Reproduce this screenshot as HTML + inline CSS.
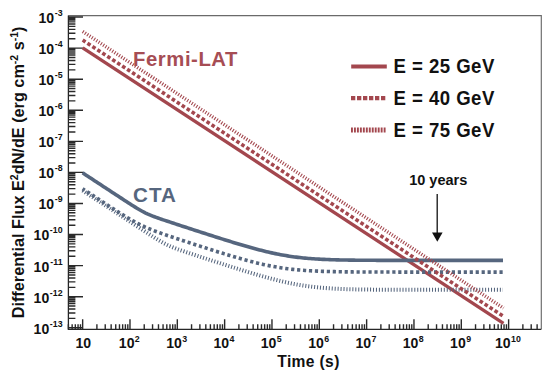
<!DOCTYPE html>
<html><head><meta charset="utf-8"><style>html,body{margin:0;padding:0;background:#fff;width:550px;height:377px;overflow:hidden}svg{display:block}</style></head>
<body><svg width="550" height="377" viewBox="0 0 550 377"><rect width="550" height="377" fill="#fff"/><path d="M68.4 15.6H541.3V329.3" fill="none" stroke="#6a6a6a" stroke-width="1.15"/><path d="M68.4 15.6V329.3H541.3" fill="none" stroke="#262626" stroke-width="1.3"/><path d="M68.4 17.05H83.0M68.4 48.12H83.0M68.4 79.19H83.0M68.4 110.26H83.0M68.4 141.33H83.0M68.4 172.40H83.0M68.4 203.47H83.0M68.4 234.54H83.0M68.4 265.61H83.0M68.4 296.68H83.0M68.4 327.75H83.0M68.4 38.77H75.4M68.4 33.30H75.4M68.4 29.41H75.4M68.4 26.40H75.4M68.4 23.94H75.4M68.4 21.86H75.4M68.4 20.06H75.4M68.4 18.47H75.4M68.4 69.84H75.4M68.4 64.37H75.4M68.4 60.48H75.4M68.4 57.47H75.4M68.4 55.01H75.4M68.4 52.93H75.4M68.4 51.13H75.4M68.4 49.54H75.4M68.4 100.91H75.4M68.4 95.44H75.4M68.4 91.55H75.4M68.4 88.54H75.4M68.4 86.08H75.4M68.4 84.00H75.4M68.4 82.20H75.4M68.4 80.61H75.4M68.4 131.98H75.4M68.4 126.51H75.4M68.4 122.62H75.4M68.4 119.61H75.4M68.4 117.15H75.4M68.4 115.07H75.4M68.4 113.27H75.4M68.4 111.68H75.4M68.4 163.05H75.4M68.4 157.58H75.4M68.4 153.69H75.4M68.4 150.68H75.4M68.4 148.22H75.4M68.4 146.14H75.4M68.4 144.34H75.4M68.4 142.75H75.4M68.4 194.12H75.4M68.4 188.65H75.4M68.4 184.76H75.4M68.4 181.75H75.4M68.4 179.29H75.4M68.4 177.21H75.4M68.4 175.41H75.4M68.4 173.82H75.4M68.4 225.19H75.4M68.4 219.72H75.4M68.4 215.83H75.4M68.4 212.82H75.4M68.4 210.36H75.4M68.4 208.28H75.4M68.4 206.48H75.4M68.4 204.89H75.4M68.4 256.26H75.4M68.4 250.79H75.4M68.4 246.90H75.4M68.4 243.89H75.4M68.4 241.43H75.4M68.4 239.35H75.4M68.4 237.55H75.4M68.4 235.96H75.4M68.4 287.33H75.4M68.4 281.86H75.4M68.4 277.97H75.4M68.4 274.96H75.4M68.4 272.50H75.4M68.4 270.42H75.4M68.4 268.62H75.4M68.4 267.03H75.4M68.4 318.40H75.4M68.4 312.93H75.4M68.4 309.04H75.4M68.4 306.03H75.4M68.4 303.57H75.4M68.4 301.49H75.4M68.4 299.69H75.4M68.4 298.10H75.4M82.65 329.3V319.3M129.98 329.3V319.3M177.31 329.3V319.3M224.64 329.3V319.3M271.97 329.3V319.3M319.30 329.3V319.3M366.63 329.3V319.3M413.96 329.3V319.3M461.29 329.3V319.3M508.62 329.3V319.3M68.40 329.3V324.3M72.15 329.3V324.3M75.32 329.3V324.3M78.06 329.3V324.3M80.48 329.3V324.3M96.90 329.3V324.3M105.23 329.3V324.3M111.15 329.3V324.3M115.73 329.3V324.3M119.48 329.3V324.3M122.65 329.3V324.3M125.39 329.3V324.3M127.81 329.3V324.3M144.23 329.3V324.3M152.56 329.3V324.3M158.48 329.3V324.3M163.06 329.3V324.3M166.81 329.3V324.3M169.98 329.3V324.3M172.72 329.3V324.3M175.14 329.3V324.3M191.56 329.3V324.3M199.89 329.3V324.3M205.81 329.3V324.3M210.39 329.3V324.3M214.14 329.3V324.3M217.31 329.3V324.3M220.05 329.3V324.3M222.47 329.3V324.3M238.89 329.3V324.3M247.22 329.3V324.3M253.14 329.3V324.3M257.72 329.3V324.3M261.47 329.3V324.3M264.64 329.3V324.3M267.38 329.3V324.3M269.80 329.3V324.3M286.22 329.3V324.3M294.55 329.3V324.3M300.47 329.3V324.3M305.05 329.3V324.3M308.80 329.3V324.3M311.97 329.3V324.3M314.71 329.3V324.3M317.13 329.3V324.3M333.55 329.3V324.3M341.88 329.3V324.3M347.80 329.3V324.3M352.38 329.3V324.3M356.13 329.3V324.3M359.30 329.3V324.3M362.04 329.3V324.3M364.46 329.3V324.3M380.88 329.3V324.3M389.21 329.3V324.3M395.13 329.3V324.3M399.71 329.3V324.3M403.46 329.3V324.3M406.63 329.3V324.3M409.37 329.3V324.3M411.79 329.3V324.3M428.21 329.3V324.3M436.54 329.3V324.3M442.46 329.3V324.3M447.04 329.3V324.3M450.79 329.3V324.3M453.96 329.3V324.3M456.70 329.3V324.3M459.12 329.3V324.3M475.54 329.3V324.3M483.87 329.3V324.3M489.79 329.3V324.3M494.37 329.3V324.3M498.12 329.3V324.3M501.29 329.3V324.3M504.03 329.3V324.3M506.45 329.3V324.3M522.87 329.3V324.3M531.20 329.3V324.3M537.12 329.3V324.3" stroke="#2a2a2a" stroke-width="1.4" fill="none"/><path d="M82.7 47.90L503.5 323.30" stroke="#a3474e" fill="none" stroke-width="3.3"/><path d="M82.60 190.54L84.35 191.69L86.10 192.84L87.85 193.99L89.61 195.14L91.36 196.29L93.11 197.44L94.86 198.59L96.61 199.74L98.36 200.89L100.12 202.04L101.87 203.19L103.62 204.34L105.37 205.49L107.12 206.64L108.88 207.79L110.63 208.94L112.38 210.09L114.13 211.24L115.88 212.39L117.63 213.54L119.38 214.69L121.14 215.84L122.89 216.99L124.64 218.14L126.39 219.29L128.14 220.44L129.89 221.59L131.65 222.74L133.40 223.89L135.15 225.04L136.90 226.18L138.65 227.33L140.40 228.48L142.16 229.63L143.91 230.77L145.66 231.91L147.41 233.05L149.16 234.19L150.91 235.31L152.67 236.44L154.42 237.55L156.17 238.64L157.92 239.72L159.67 240.77L161.43 241.78L163.18 242.77L164.93 243.70L166.68 244.60L168.43 245.44L170.18 246.23L171.94 246.98L173.69 247.69L175.44 248.37L177.19 249.03L178.94 249.66L180.69 250.27L182.44 250.88L184.20 251.47L185.95 252.06L187.70 252.65L189.45 253.23L191.20 253.81L192.95 254.38L194.71 254.96L196.46 255.53L198.21 256.10L199.96 256.67L201.71 257.25L203.46 257.82L205.22 258.39L206.97 258.96L208.72 259.53L210.47 260.09L212.22 260.66L213.97 261.23L215.73 261.79L217.48 262.36L219.23 262.93L220.98 263.49L222.73 264.05L224.49 264.61L226.24 265.17L227.99 265.73L229.74 266.29L231.49 266.85L233.24 267.40L234.99 267.96L236.75 268.51L238.50 269.06L240.25 269.61L242.00 270.15L243.75 270.69L245.50 271.23L247.26 271.77L249.01 272.30L250.76 272.83L252.51 273.36L254.26 273.88L256.01 274.40L257.77 274.92L259.52 275.43L261.27 275.93L263.02 276.43L264.77 276.92L266.52 277.41L268.28 277.89L270.03 278.36L271.78 278.83L273.53 279.29L275.28 279.74L277.03 280.18L278.79 280.61L280.54 281.04L282.29 281.45L284.04 281.85L285.79 282.25L287.54 282.63L289.30 283.00L291.05 283.36L292.80 283.71L294.55 284.05L296.30 284.37L298.05 284.69L299.81 284.99L301.56 285.28L303.31 285.55L305.06 285.82L306.81 286.07L308.56 286.31L310.32 286.54L312.07 286.75L313.82 286.96L315.57 287.15L317.32 287.33L319.07 287.51L320.83 287.67L322.58 287.82L324.33 287.97L326.08 288.10L327.83 288.23L329.58 288.34L331.34 288.45L333.09 288.56L334.84 288.65L336.59 288.74L338.34 288.82L340.10 288.90L341.85 288.97L343.60 289.04L345.35 289.10L347.10 289.16L348.85 289.21L350.61 289.26L352.36 289.30L354.11 289.35L355.86 289.38L357.61 289.42L359.36 289.45L361.12 289.48L362.87 289.51L364.62 289.54L366.37 289.56L368.12 289.58L369.87 289.60L371.62 289.62L373.38 289.64L375.13 289.65L376.88 289.67L378.63 289.68L380.38 289.69L382.13 289.70L383.89 289.71L385.64 289.72L387.39 289.73L389.14 289.74L390.89 289.75L392.64 289.76L394.40 289.76L396.15 289.77L397.90 289.77L399.65 289.78L401.40 289.78L403.15 289.79L404.91 289.79L406.66 289.79L408.41 289.80L410.16 289.80L411.91 289.80L413.66 289.80L415.42 289.81L417.17 289.81L418.92 289.81L420.67 289.81L422.42 289.81L424.17 289.82L425.93 289.82L427.68 289.82L429.43 289.82L431.18 289.82L432.93 289.82L434.68 289.82L436.44 289.82L438.19 289.82L439.94 289.82L441.69 289.83L443.44 289.83L445.19 289.83L446.95 289.83L448.70 289.83L450.45 289.83L452.20 289.83L453.95 289.83L455.70 289.83L457.46 289.83L459.21 289.83L460.96 289.83L462.71 289.83L464.46 289.83L466.21 289.83L467.97 289.83L469.72 289.83L471.47 289.83L473.22 289.83L474.97 289.83L476.73 289.83L478.48 289.83L480.23 289.83L481.98 289.83L483.73 289.83L485.48 289.83L487.24 289.83L488.99 289.83L490.74 289.83L492.49 289.83L494.24 289.83L495.99 289.83L497.74 289.83L499.50 289.83L501.25 289.83L503.00 289.83" stroke="#56667e" fill="none" stroke-width="4.0" stroke-dasharray="1.05 1.9"/><path d="M82.60 188.73L84.35 189.88L86.10 191.03L87.85 192.18L89.61 193.33L91.36 194.47L93.11 195.62L94.86 196.77L96.61 197.92L98.36 199.06L100.12 200.21L101.87 201.36L103.62 202.50L105.37 203.64L107.12 204.78L108.88 205.92L110.63 207.06L112.38 208.19L114.13 209.32L115.88 210.45L117.63 211.57L119.38 212.68L121.14 213.79L122.89 214.88L124.64 215.97L126.39 217.04L128.14 218.09L129.89 219.13L131.65 220.14L133.40 221.13L135.15 222.10L136.90 223.04L138.65 223.95L140.40 224.83L142.16 225.68L143.91 226.50L145.66 227.29L147.41 228.05L149.16 228.78L150.91 229.49L152.67 230.19L154.42 230.86L156.17 231.51L157.92 232.15L159.67 232.78L161.43 233.40L163.18 234.01L164.93 234.62L166.68 235.22L168.43 235.81L170.18 236.40L171.94 236.98L173.69 237.57L175.44 238.15L177.19 238.72L178.94 239.30L180.69 239.88L182.44 240.45L184.20 241.02L185.95 241.59L187.70 242.16L189.45 242.73L191.20 243.30L192.95 243.87L194.71 244.44L196.46 245.00L198.21 245.57L199.96 246.13L201.71 246.69L203.46 247.25L205.22 247.81L206.97 248.37L208.72 248.93L210.47 249.49L212.22 250.04L213.97 250.59L215.73 251.14L217.48 251.69L219.23 252.24L220.98 252.78L222.73 253.32L224.49 253.86L226.24 254.39L227.99 254.93L229.74 255.45L231.49 255.98L233.24 256.50L234.99 257.01L236.75 257.53L238.50 258.03L240.25 258.53L242.00 259.03L243.75 259.52L245.50 260.00L247.26 260.47L249.01 260.94L250.76 261.40L252.51 261.86L254.26 262.30L256.01 262.74L257.77 263.16L259.52 263.58L261.27 263.99L263.02 264.39L264.77 264.77L266.52 265.15L268.28 265.51L270.03 265.86L271.78 266.20L273.53 266.53L275.28 266.85L277.03 267.15L278.79 267.45L280.54 267.73L282.29 268.00L284.04 268.25L285.79 268.50L287.54 268.73L289.30 268.95L291.05 269.16L292.80 269.35L294.55 269.54L296.30 269.72L298.05 269.88L299.81 270.04L301.56 270.19L303.31 270.32L305.06 270.45L306.81 270.57L308.56 270.68L310.32 270.79L312.07 270.89L313.82 270.98L315.57 271.06L317.32 271.14L319.07 271.21L320.83 271.28L322.58 271.35L324.33 271.40L326.08 271.46L327.83 271.51L329.58 271.55L331.34 271.60L333.09 271.64L334.84 271.67L336.59 271.71L338.34 271.74L340.10 271.77L341.85 271.79L343.60 271.82L345.35 271.84L347.10 271.86L348.85 271.88L350.61 271.90L352.36 271.91L354.11 271.93L355.86 271.94L357.61 271.95L359.36 271.97L361.12 271.98L362.87 271.99L364.62 272.00L366.37 272.00L368.12 272.01L369.87 272.02L371.62 272.02L373.38 272.03L375.13 272.04L376.88 272.04L378.63 272.05L380.38 272.05L382.13 272.05L383.89 272.06L385.64 272.06L387.39 272.06L389.14 272.07L390.89 272.07L392.64 272.07L394.40 272.07L396.15 272.08L397.90 272.08L399.65 272.08L401.40 272.08L403.15 272.08L404.91 272.08L406.66 272.08L408.41 272.09L410.16 272.09L411.91 272.09L413.66 272.09L415.42 272.09L417.17 272.09L418.92 272.09L420.67 272.09L422.42 272.09L424.17 272.09L425.93 272.09L427.68 272.09L429.43 272.09L431.18 272.09L432.93 272.09L434.68 272.09L436.44 272.09L438.19 272.09L439.94 272.09L441.69 272.09L443.44 272.10L445.19 272.10L446.95 272.10L448.70 272.10L450.45 272.10L452.20 272.10L453.95 272.10L455.70 272.10L457.46 272.10L459.21 272.10L460.96 272.10L462.71 272.10L464.46 272.10L466.21 272.10L467.97 272.10L469.72 272.10L471.47 272.10L473.22 272.10L474.97 272.10L476.73 272.10L478.48 272.10L480.23 272.10L481.98 272.10L483.73 272.10L485.48 272.10L487.24 272.10L488.99 272.10L490.74 272.10L492.49 272.10L494.24 272.10L495.99 272.10L497.74 272.10L499.50 272.10L501.25 272.10L503.00 272.10" stroke="#56667e" fill="none" stroke-width="3.6" stroke-dasharray="3.2 2.755" stroke-dashoffset="0.6"/><path d="M82.60 172.85L84.35 174.00L86.10 175.15L87.85 176.30L89.61 177.45L91.36 178.60L93.11 179.75L94.86 180.90L96.61 182.05L98.36 183.20L100.12 184.35L101.87 185.50L103.62 186.65L105.37 187.80L107.12 188.95L108.88 190.10L110.63 191.25L112.38 192.39L114.13 193.54L115.88 194.69L117.63 195.84L119.38 196.99L121.14 198.13L122.89 199.28L124.64 200.42L126.39 201.55L128.14 202.69L129.89 203.81L131.65 204.93L133.40 206.04L135.15 207.13L136.90 208.20L138.65 209.24L140.40 210.25L142.16 211.22L143.91 212.14L145.66 213.02L147.41 213.85L149.16 214.63L150.91 215.37L152.67 216.07L154.42 216.74L156.17 217.39L157.92 218.02L159.67 218.63L161.43 219.23L163.18 219.83L164.93 220.41L166.68 221.00L168.43 221.58L170.18 222.16L171.94 222.73L173.69 223.31L175.44 223.88L177.19 224.46L178.94 225.03L180.69 225.60L182.44 226.17L184.20 226.75L185.95 227.32L187.70 227.89L189.45 228.46L191.20 229.03L192.95 229.60L194.71 230.17L196.46 230.73L198.21 231.30L199.96 231.87L201.71 232.43L203.46 233.00L205.22 233.56L206.97 234.13L208.72 234.69L210.47 235.25L212.22 235.81L213.97 236.37L215.73 236.93L217.48 237.49L219.23 238.04L220.98 238.60L222.73 239.15L224.49 239.70L226.24 240.24L227.99 240.79L229.74 241.33L231.49 241.87L233.24 242.41L234.99 242.94L236.75 243.47L238.50 244.00L240.25 244.52L242.00 245.04L243.75 245.55L245.50 246.06L247.26 246.56L249.01 247.06L250.76 247.55L252.51 248.04L254.26 248.52L256.01 248.99L257.77 249.46L259.52 249.92L261.27 250.36L263.02 250.81L264.77 251.24L266.52 251.66L268.28 252.07L270.03 252.48L271.78 252.87L273.53 253.25L275.28 253.62L277.03 253.98L278.79 254.33L280.54 254.66L282.29 254.99L284.04 255.30L285.79 255.60L287.54 255.88L289.30 256.16L291.05 256.42L292.80 256.67L294.55 256.91L296.30 257.14L298.05 257.35L299.81 257.56L301.56 257.75L303.31 257.93L305.06 258.10L306.81 258.26L308.56 258.42L310.32 258.56L312.07 258.69L313.82 258.82L315.57 258.93L317.32 259.04L319.07 259.14L320.83 259.24L322.58 259.33L324.33 259.41L326.08 259.49L327.83 259.56L329.58 259.62L331.34 259.68L333.09 259.74L334.84 259.79L336.59 259.84L338.34 259.89L340.10 259.93L341.85 259.96L343.60 260.00L345.35 260.03L347.10 260.06L348.85 260.09L350.61 260.12L352.36 260.14L354.11 260.16L355.86 260.18L357.61 260.20L359.36 260.22L361.12 260.23L362.87 260.25L364.62 260.26L366.37 260.27L368.12 260.28L369.87 260.29L371.62 260.30L373.38 260.31L375.13 260.32L376.88 260.33L378.63 260.33L380.38 260.34L382.13 260.34L383.89 260.35L385.64 260.35L387.39 260.36L389.14 260.36L390.89 260.37L392.64 260.37L394.40 260.37L396.15 260.38L397.90 260.38L399.65 260.38L401.40 260.38L403.15 260.39L404.91 260.39L406.66 260.39L408.41 260.39L410.16 260.39L411.91 260.39L413.66 260.39L415.42 260.40L417.17 260.40L418.92 260.40L420.67 260.40L422.42 260.40L424.17 260.40L425.93 260.40L427.68 260.40L429.43 260.40L431.18 260.40L432.93 260.40L434.68 260.40L436.44 260.40L438.19 260.40L439.94 260.40L441.69 260.41L443.44 260.41L445.19 260.41L446.95 260.41L448.70 260.41L450.45 260.41L452.20 260.41L453.95 260.41L455.70 260.41L457.46 260.41L459.21 260.41L460.96 260.41L462.71 260.41L464.46 260.41L466.21 260.41L467.97 260.41L469.72 260.41L471.47 260.41L473.22 260.41L474.97 260.41L476.73 260.41L478.48 260.41L480.23 260.41L481.98 260.41L483.73 260.41L485.48 260.41L487.24 260.41L488.99 260.41L490.74 260.41L492.49 260.41L494.24 260.41L495.99 260.41L497.74 260.41L499.50 260.41L501.25 260.41L503.00 260.41" stroke="#56667e" fill="none" stroke-width="3.6"/><path d="M82.7 40.10L503.5 316.40" stroke="#a3474e" fill="none" stroke-width="3.6" stroke-dasharray="3.6 2.34" stroke-dashoffset="0.25"/><path d="M82.7 31.50L503.5 308.10" stroke="#a3474e" fill="none" stroke-width="3.5" stroke-dasharray="1.1 1.62"/><path d="M351.2 66.4H386.8" stroke="#a3474e" stroke-width="4"/><path d="M351 98.2H385.3" stroke="#a3474e" stroke-width="4.2" stroke-dasharray="4.3 1.7"/><path d="M351 129.9H385.9" stroke="#a3474e" stroke-width="5" stroke-dasharray="1.9 1.07"/><path d="M437.2 194V233" stroke="#111" stroke-width="1.3"/><path d="M432 232.6H442.6L437.3 241.8Z" fill="#111"/><g font-family="Liberation Sans, sans-serif" font-weight="bold"><text transform="translate(393.6 73.3) scale(1 1.06)" font-size="18.6" letter-spacing="0.45" fill="#111">E = 25 GeV</text><text transform="translate(393.6 104.7) scale(1 1.06)" font-size="18.6" letter-spacing="0.45" fill="#111">E = 40 GeV</text><text transform="translate(393.6 136.8) scale(1 1.06)" font-size="18.6" letter-spacing="0.45" fill="#111">E = 75 GeV</text><text x="133.1" y="65.8" font-size="20.3" letter-spacing="0.55" fill="#a64d54">Fermi-LAT</text><text x="133.0" y="201.5" font-size="20.6" letter-spacing="1.1" fill="#56667e">CTA</text><text x="409.2" y="184.7" font-size="14.5" fill="#111">10 years</text><text transform="translate(62.60 15.95) scale(0.9 1.0)" font-size="9.8" fill="#111" text-anchor="end">-3</text><text transform="translate(54.16 22.95) scale(0.97 1.07)" font-size="14.5" fill="#111" text-anchor="end">10</text><text transform="translate(62.60 47.02) scale(0.9 1.0)" font-size="9.8" fill="#111" text-anchor="end">-4</text><text transform="translate(54.16 54.02) scale(0.97 1.07)" font-size="14.5" fill="#111" text-anchor="end">10</text><text transform="translate(62.60 78.09) scale(0.9 1.0)" font-size="9.8" fill="#111" text-anchor="end">-5</text><text transform="translate(54.16 85.09) scale(0.97 1.07)" font-size="14.5" fill="#111" text-anchor="end">10</text><text transform="translate(62.60 109.16) scale(0.9 1.0)" font-size="9.8" fill="#111" text-anchor="end">-6</text><text transform="translate(54.16 116.16) scale(0.97 1.07)" font-size="14.5" fill="#111" text-anchor="end">10</text><text transform="translate(62.60 140.23) scale(0.9 1.0)" font-size="9.8" fill="#111" text-anchor="end">-7</text><text transform="translate(54.16 147.23) scale(0.97 1.07)" font-size="14.5" fill="#111" text-anchor="end">10</text><text transform="translate(62.60 171.30) scale(0.9 1.0)" font-size="9.8" fill="#111" text-anchor="end">-8</text><text transform="translate(54.16 178.30) scale(0.97 1.07)" font-size="14.5" fill="#111" text-anchor="end">10</text><text transform="translate(62.60 202.37) scale(0.9 1.0)" font-size="9.8" fill="#111" text-anchor="end">-9</text><text transform="translate(54.16 209.37) scale(0.97 1.07)" font-size="14.5" fill="#111" text-anchor="end">10</text><text transform="translate(62.60 233.44) scale(0.9 1.0)" font-size="9.8" fill="#111" text-anchor="end">-10</text><text transform="translate(49.26 240.44) scale(0.97 1.07)" font-size="14.5" fill="#111" text-anchor="end">10</text><text transform="translate(62.60 264.51) scale(0.9 1.0)" font-size="9.8" fill="#111" text-anchor="end">-11</text><text transform="translate(49.26 271.51) scale(0.97 1.07)" font-size="14.5" fill="#111" text-anchor="end">10</text><text transform="translate(62.60 295.58) scale(0.9 1.0)" font-size="9.8" fill="#111" text-anchor="end">-12</text><text transform="translate(49.26 302.58) scale(0.97 1.07)" font-size="14.5" fill="#111" text-anchor="end">10</text><text transform="translate(62.60 326.65) scale(0.9 1.0)" font-size="9.8" fill="#111" text-anchor="end">-13</text><text transform="translate(49.26 333.65) scale(0.97 1.07)" font-size="14.5" fill="#111" text-anchor="end">10</text><text transform="translate(83.25 347.9) scale(0.97 1.07)" font-size="14.5" fill="#111" text-anchor="middle">10</text><text transform="translate(118.81 347.9) scale(0.97 1.07)" font-size="14.5" fill="#111">10</text><text transform="translate(134.85 342.10) scale(0.9 1.0)" font-size="9.8" fill="#111">2</text><text transform="translate(166.14 347.9) scale(0.97 1.07)" font-size="14.5" fill="#111">10</text><text transform="translate(182.18 342.10) scale(0.9 1.0)" font-size="9.8" fill="#111">3</text><text transform="translate(213.47 347.9) scale(0.97 1.07)" font-size="14.5" fill="#111">10</text><text transform="translate(229.51 342.10) scale(0.9 1.0)" font-size="9.8" fill="#111">4</text><text transform="translate(260.80 347.9) scale(0.97 1.07)" font-size="14.5" fill="#111">10</text><text transform="translate(276.84 342.10) scale(0.9 1.0)" font-size="9.8" fill="#111">5</text><text transform="translate(308.13 347.9) scale(0.97 1.07)" font-size="14.5" fill="#111">10</text><text transform="translate(324.17 342.10) scale(0.9 1.0)" font-size="9.8" fill="#111">6</text><text transform="translate(355.46 347.9) scale(0.97 1.07)" font-size="14.5" fill="#111">10</text><text transform="translate(371.50 342.10) scale(0.9 1.0)" font-size="9.8" fill="#111">7</text><text transform="translate(402.79 347.9) scale(0.97 1.07)" font-size="14.5" fill="#111">10</text><text transform="translate(418.83 342.10) scale(0.9 1.0)" font-size="9.8" fill="#111">8</text><text transform="translate(450.12 347.9) scale(0.97 1.07)" font-size="14.5" fill="#111">10</text><text transform="translate(466.16 342.10) scale(0.9 1.0)" font-size="9.8" fill="#111">9</text><text transform="translate(495.00 347.9) scale(0.97 1.07)" font-size="14.5" fill="#111">10</text><text transform="translate(511.04 342.10) scale(0.9 1.0)" font-size="9.8" fill="#111">10</text><text x="277.3" y="366.8" font-size="15.6" letter-spacing="0.36" fill="#111">Time (s)</text><text transform="translate(23.5 318.3) rotate(-90)" font-size="16.25" fill="#111">Differential Flux E<tspan dy="-6" font-size="10.5">2</tspan><tspan dy="6">dN/dE (erg cm</tspan><tspan dy="-6" font-size="10.5">-2</tspan><tspan dy="6"> s</tspan><tspan dy="-6" font-size="10.5">-1</tspan><tspan dy="6">)</tspan></text></g></svg></body></html>
